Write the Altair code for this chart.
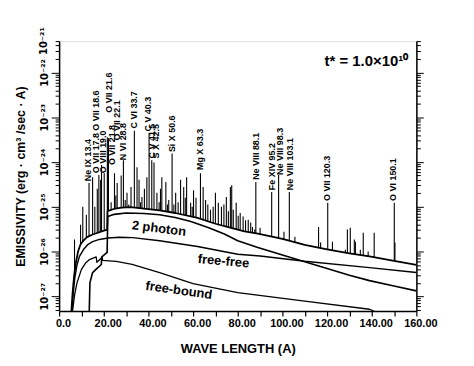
import altair as alt
import numpy as np
import pandas as pd

# ---------------- continuum curves (wavelength in A, log10 emissivity) ----------------
total_wl = [5.5, 6.0, 6.7, 7.5, 8.5, 9.5, 11, 12.5, 15, 18, 21.5, 21.7, 24.5, 28, 32, 38, 45, 52,
            62, 70, 77, 83, 89, 100, 110, 120, 130, 139, 150, 160]
total_log = [-27.33, -26.95, -26.55, -26.25, -26.0, -25.85, -25.75, -25.68, -25.62, -25.57, -25.51,
             -25.10, -25.05, -25.02, -25.01, -25.04, -25.08, -25.14, -25.25, -25.38, -25.47, -25.55,
             -25.60, -25.72, -25.85, -25.95, -26.04, -26.11, -26.21, -26.30]

twophot_wl = [13.5, 13.8, 15, 16.5, 18, 18.9, 19.1, 21.5, 21.8, 24.7, 30, 38, 45, 52, 59, 67, 74,
              80, 89, 100, 110, 120, 130, 139, 150, 160]
twophot_log = [-27.33, -26.70, -26.47, -26.40, -26.33, -26.29, -26.12, -26.02, -25.22, -25.17,
               -25.14, -25.15, -25.18, -25.24, -25.33, -25.47, -25.61, -25.76, -25.91, -26.08,
               -26.23, -26.38, -26.53, -26.65, -26.77, -26.88]

ff_wl = [5.8, 6.3, 7.0, 8.0, 9.1, 11, 13, 15, 18, 22, 27, 33, 45, 62, 80, 90, 110, 139, 160]
ff_log = [-27.33, -26.95, -26.60, -26.30, -26.11, -25.95, -25.84, -25.78, -25.73, -25.70, -25.68,
          -25.69, -25.76, -25.89, -26.06, -26.10, -26.22, -26.36, -26.47]

fb_wl = [6.0, 7.0, 8.0, 10, 12, 13.6, 16.6, 16.9, 19.3, 19.5, 22.4, 25.6, 32.7, 45, 60, 80, 110,
         139, 141]
fb_log = [-27.33, -26.95, -26.70, -26.40, -26.25, -26.18, -26.12, -26.24, -26.13, -26.20, -26.21,
          -26.22, -26.29, -26.47, -26.72, -26.92, -27.11, -27.29, -27.33]

# ---------------- emission lines: wavelength, log10 peak ----------------
line_wl = [6.9, 9.6, 10.6, 12.2, 13.4, 15.0, 16.0, 17.1, 17.8, 18.6, 19.0, 20.2, 21.6, 21.8, 22.1,
           23.3, 24.8, 25.4, 26.0, 27.8, 28.8, 29.6, 30.4, 31.2, 32.2, 33.7, 34.9, 35.8, 36.5,
           37.1, 38.2, 39.3, 40.3, 41.5, 42.5, 43.8, 44.8, 45.4, 46.0, 47.8, 48.5, 49.1, 50.6,
           51.4, 52.2, 53.3, 54.4, 55.8, 56.5, 57.1, 58.9, 59.6, 60.2, 61.3, 63.3, 64.5, 65.6,
           66.6, 67.8, 69.0, 70.0, 71.3, 72.7, 73.8, 74.9, 75.8, 76.7, 77.3, 78.0, 79.3, 80.2,
           81.1, 82.4, 83.5, 84.7, 85.8, 86.6, 87.6, 88.1, 90.0, 95.2, 98.0, 98.3, 100.7, 103.1,
           105.6, 116.2, 117.1, 120.3, 122.4, 128.2, 129.1, 130.4, 132.2, 132.7, 134.9, 136.2,
           138.4, 141.1, 150.1, 150.4]
line_log = [-25.73, -25.40, -25.00, -25.18, -24.47, -24.34, -25.00, -24.60, -24.29, -24.40, -24.07,
            -24.25, -23.45, -23.90, -23.47, -24.90, -24.25, -24.75, -24.47, -24.30, -23.96, -24.85,
            -24.69, -24.95, -24.56, -23.30, -24.12, -24.40, -24.90, -24.78, -24.60, -24.34, -23.36,
            -23.96, -24.01, -24.69, -24.90, -24.60, -24.34, -24.45, -24.95, -24.85, -23.81, -24.95,
            -24.69, -24.90, -24.40, -24.56, -24.80, -24.34, -24.91, -25.00, -24.63, -24.80, -24.25,
            -24.56, -24.85, -24.95, -25.07, -25.00, -24.69, -24.91, -25.00, -24.95, -24.78, -25.10,
            -24.56, -24.52, -25.07, -24.91, -25.20, -25.14, -25.22, -25.30, -25.29, -25.35, -25.45,
            -25.51, -24.45, -25.47, -24.67, -25.67, -24.29, -25.56, -24.67, -25.67, -25.45, -25.80,
            -24.91, -25.78, -25.96, -25.51, -25.47, -25.73, -25.78, -25.96, -25.58, -26.00, -25.58,
            -24.91, -25.80]

# ---------------- line identifications ----------------
label_text = ["Ne IX 13.4", "O VII 17.8", "O VII 18.6", "O VIII 19.0", "O VII 21.6", "O VII 21.8",
              "O VII 22.1", "N VI 28.8", "C VI 33.7", "C V 40.3", "C V 41.5", "S X 42.5",
              "Si X 50.6", "Mg X 63.3", "Ne VIII 88.1", "Fe XIV 95.2", "Ne VIII 98.3",
              "Ne VIII 103.1", "O VII 120.3", "O VI 150.1"]
label_wl = [13.1, 16.7, 16.7, 19.8, 22.4, 23.8, 26.0, 28.7, 33.6, 39.8, 41.6, 43.3, 50.4, 62.9,
            88.2, 95.3, 98.9, 103.3, 119.8, 149.6]
label_log = [-24.43, -24.25, -23.30, -24.25, -22.90, -24.07, -23.52, -23.96, -23.25, -23.32,
             -23.92, -23.92, -23.78, -24.18, -24.40, -24.63, -24.29, -24.63, -24.87, -24.87]

# ---------------- curve names ----------------
curve_names = ["2 photon", "free-free", "free-bound"]
curve_name_wl = [44.7, 73.6, 53.6]
curve_name_log = [-25.49, -26.22, -26.87]
curve_name_angle = [7, 5, 8]

Y_MIN, Y_MAX = 10 ** -27.33, 10 ** -21.3

rows = []
for name, wl, lg in [("total", total_wl, total_log), ("2 photon", twophot_wl, twophot_log),
                     ("free-free", ff_wl, ff_log), ("free-bound", fb_wl, fb_log)]:
    for w, l in zip(wl, lg):
        rows.append({"series": name, "wl": w, "em": 10 ** l})
curve_df = pd.DataFrame(rows)

base_log = np.interp(line_wl, total_wl, total_log)
lines_df = pd.DataFrame({"wl": line_wl, "top": 10 ** np.array(line_log), "base": 10 ** base_log})
labels_df = pd.DataFrame({"text": label_text, "wl": label_wl, "em": 10 ** np.array(label_log)})
names_df = pd.DataFrame({"text": curve_names, "wl": curve_name_wl,
                         "em": 10 ** np.array(curve_name_log), "angle": curve_name_angle})

yvals = []
for e in range(-28, -21):
    for m in range(1, 10):
        v = float(f"{m}e{e}")
        if Y_MIN <= v <= Y_MAX:
            yvals.append(v)

IS_MAJOR = "abs(log(datum.value)/LN10 - round(log(datum.value)/LN10)) < 0.01"
SUP = "['⁻²⁰','⁻²¹','⁻²²','⁻²³','⁻²⁴','⁻²⁵','⁻²⁶','⁻²⁷','⁻²⁸']"
ylabel_expr = f"{IS_MAJOR} ? '10' + {SUP}[-round(log(datum.value)/LN10) - 20] : ''"

FONT = "Liberation Sans"

xscale = alt.Scale(domain=[0, 160], nice=False)
yscale = alt.Scale(type="log", domain=[Y_MIN, Y_MAX], nice=False)

x_axis = alt.Axis(values=list(range(0, 161, 10)),
                  labelExpr="datum.value % 20 == 0 ? (datum.value == 0 ? '0.0' : format(datum.value, '.2f')) : ''",
                  tickSize=5, tickColor="black", tickWidth=1.2, domainColor="black", domainWidth=1.5,
                  labelFont=FONT, labelFontSize=11, labelFontWeight="bold", labelColor="black",
                  labelPadding=2, labelOffset=4, labelOverlap=False, labelFlush=False, grid=False,
                  title="WAVE LENGTH (A)", titleFont=FONT, titleFontSize=13, titleFontWeight="bold",
                  titleColor="black", titlePadding=14)
y_axis = alt.Axis(values=yvals, labelExpr=ylabel_expr, labelOverlap=False, labelFlush=False,
                  tickSize={"condition": {"test": IS_MAJOR, "value": 8}, "value": 4},
                  tickColor="black", tickWidth=1, domainColor="black", domainWidth=1.5,
                  labelFont="DejaVu Sans", labelFontSize=10, labelFontWeight="bold",
                  labelColor="black", labelAngle=270, labelAlign="center", labelBaseline="bottom",
                  labelPadding=2, grid=False,
                  title="EMISSIVITY (erg · cm³ /sec · A)", titleFont=FONT, titleFontSize=12.5,
                  titleFontWeight="bold", titleColor="black", titlePadding=12)
y_axis_right = alt.Axis(orient="right", values=yvals, labels=False, title=None,
                        tickSize={"condition": {"test": IS_MAJOR, "value": 7}, "value": 4},
                        tickColor="black", tickWidth=1, domainColor="black", domainWidth=1.5,
                        grid=False)

X = alt.X("wl:Q", scale=xscale, axis=x_axis)

curves = alt.Chart(curve_df).mark_line(color="black", clip=True, strokeJoin="round").encode(
    x=X,
    y=alt.Y("em:Q", scale=yscale, axis=y_axis),
    detail="series:N",
    strokeWidth=alt.StrokeWidth("series:N", legend=None,
                                scale=alt.Scale(domain=["total", "2 photon", "free-free", "free-bound"],
                                                range=[1.8, 1.3, 1.5, 1.5])),
    order="wl:Q",
)

rules = alt.Chart(lines_df).mark_rule(color="black", strokeWidth=1.1, clip=True).encode(
    x=X,
    y=alt.Y("top:Q", scale=yscale, axis=y_axis_right),
    y2="base:Q",
)

labels = alt.Chart(labels_df).mark_text(angle=270, align="left", baseline="middle", font=FONT,
                                        fontSize=9, fontWeight="bold", color="black").encode(
    x=X,
    y=alt.Y("em:Q", scale=yscale, axis=None),
    text="text:N",
)

names = alt.Chart(names_df).mark_text(align="center", baseline="middle", font=FONT, fontSize=13,
                                      fontWeight="bold", color="black").encode(
    x=X,
    y=alt.Y("em:Q", scale=yscale, axis=None),
    text="text:N",
    angle=alt.Angle("angle:Q", scale=None),
)

tstar = alt.Chart(pd.DataFrame({"text": ["t* = 1.0×10¹⁰"], "wl": [118.9], "em": [10 ** -21.74]})).mark_text(
    align="left", baseline="middle", font=FONT, fontSize=15, fontWeight="bold", color="black").encode(
    x=X,
    y=alt.Y("em:Q", scale=yscale, axis=None),
    text="text:N",
)

top_label = alt.Chart(pd.DataFrame({"text": ["10⁻²¹"], "em": [Y_MAX]})).mark_text(
    angle=270, align="center", baseline="bottom", font="DejaVu Sans", fontSize=10,
    fontWeight="bold", color="black").encode(
    x=alt.value(-10),
    y=alt.Y("em:Q", scale=yscale, axis=None),
    text="text:N",
)

chart = alt.layer(curves, rules, labels, names, tstar, top_label).resolve_axis(
    y="independent"
).properties(
    width=360, height=272,
    autosize=alt.AutoSizeParams(type="none"),
    padding={"left": 51.5, "top": 32, "right": 50, "bottom": 50},
).configure_view(stroke="black", strokeWidth=1.5).configure(background="white")

chart.save("out.html", embed_options={"renderer": "svg", "actions": False})
